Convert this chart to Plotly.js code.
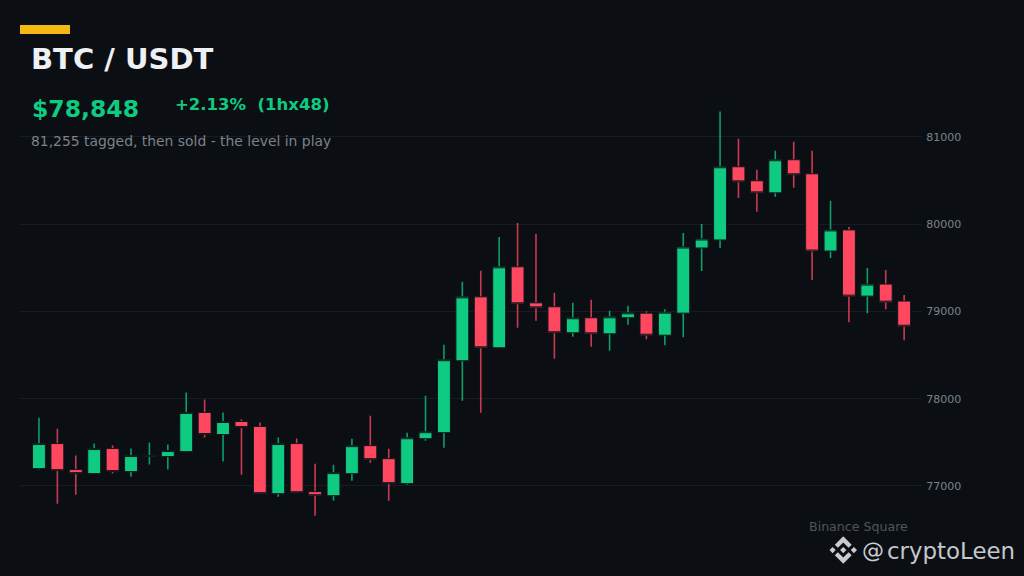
<!DOCTYPE html>
<html>
<head>
<meta charset="utf-8">
<script src="https://cdn.plot.ly/plotly-3.0.1.min.js"></script>
<style>html,body{margin:0;padding:0;background:#0b0f13;overflow:hidden}#chart{width:1024px;height:576px}</style>
</head>
<body>
<div id="chart"></div>
<script>
const opens = [77199,77486,77188,77142,77429,77165,77337,77337,77394,77843,77590,77739,77682,76912,77486,76935,76889,77141,77462,77313,77027,77542,77611,78435,79168,78584,79512,79099,79054,78756,78928,78744,78928,78981,78728,78981,79728,79820,80659,80498,80360,80739,80578,79693,79935,79176,79314,79119];
const closes = [77486,77176,77142,77429,77165,77349,77349,77406,77843,77590,77739,77670,76912,77486,76923,76889,77153,77462,77302,77027,77553,77622,78447,79168,78584,79512,79088,79042,78756,78928,78744,78939,78985,78728,78992,79739,79831,80659,80486,80360,80739,80567,79693,79935,79176,79314,79107,78831];
const highs = [77781,77655,77349,77486,77463,77429,77498,77475,78072,77992,77843,77762,77728,77555,77544,77256,77244,77542,77805,77427,77611,78034,78618,79340,79466,79855,80015,79889,79214,79100,79134,79008,79065,79004,79027,79900,80004,81291,80981,80624,80843,80946,80843,80268,79969,79498,79475,79188];
const lows = [77188,76797,76900,77142,77142,77107,77245,77188,77394,77555,77280,77130,76912,76877,76923,76660,76832,77061,77267,76832,77015,77519,77439,77977,77840,78584,78813,78893,78458,78710,78596,78550,78847,78682,78613,78705,79464,79728,80302,80142,80314,80417,79360,79613,78877,78981,79027,78671];
const tickValues = [77000,78000,79000,80000,81000];
const indexes = opens.map((_, i) => i);
const bodyHighs = opens.map((o, i) => Math.max(o, closes[i]));
const bodyLows = opens.map((o, i) => Math.min(o, closes[i]));
const bodyMids = opens.map((o, i) => (o + closes[i]) / 2);

const W = 1024, H = 576;
const M = {l: 20, r: 102, t: 100, b: 56};
const px = x => (x - M.l) / (W - M.l - M.r);
const py = y => 1 - (y - M.t) / (H - M.t - M.b);

const GREEN = '#0ecb81', RED = '#ff4760', BG = '#0b0f13';
const WICK_UP = '#0b9e66', WICK_DOWN = '#c93a50';

function text(t, x, y, size, color, bold, anchor) {
  return {text: bold ? '<b>' + t + '</b>' : t, xref: 'paper', yref: 'paper', x: px(x), y: py(y),
    xanchor: anchor || 'left', yanchor: 'middle', showarrow: false, borderpad: 0, borderwidth: 0,
    font: {family: 'DejaVu Sans', size: size, color: color}};
}

function poly(pts, ox, oy, s, color) {
  const d = pts.map((p, i) => (i ? 'L' : 'M') + px(ox + p[0] * s) + ',' + py(oy + p[1] * s)).join(' ') + ' Z';
  return {type: 'path', xref: 'paper', yref: 'paper', path: d, fillcolor: color, line: {width: 0}, layer: 'above'};
}
const LOGO = '#c9cbce', LS = 27.5 / 126.6, LX = 829.5, LY = 536.3;
const logoShapes = [
  [[38.7,53.2],[63.3,28.6],[87.9,53.2],[102.2,38.9],[63.3,0],[24.4,38.9]],
  [[0,63.3],[14.3,49],[28.6,63.3],[14.3,77.6]],
  [[48.8,63.3],[63.3,48.8],[77.8,63.3],[63.3,77.8]],
  [[98,63.3],[112.3,49],[126.6,63.3],[112.3,77.6]],
  [[38.7,73.4],[24.4,87.7],[63.3,126.6],[102.2,87.7],[87.9,73.4],[63.3,98]]
].map(p => poly(p, LX, LY, LS, LOGO));

const upIdx = indexes.filter(i => closes[i] >= opens[i]);
const dnIdx = indexes.filter(i => closes[i] < opens[i]);
function wick(idx, color) {
  return {type: 'candlestick', x: idx, open: idx.map(i => bodyMids[i]), close: idx.map(i => bodyMids[i]),
    high: idx.map(i => highs[i]), low: idx.map(i => lows[i]),
    increasing: {line: {color: color, width: 1.6}, fillcolor: color},
    decreasing: {line: {color: color, width: 1.6}, fillcolor: color},
    whiskerwidth: 0, hoverinfo: 'skip', showlegend: false};
}
const bodies = {type: 'candlestick', x: indexes, open: opens, close: closes, high: bodyHighs, low: bodyLows,
  increasing: {line: {color: '#10181d', width: 1}, fillcolor: GREEN},
  decreasing: {line: {color: '#10181d', width: 1}, fillcolor: RED},
  whiskerwidth: 0, hoverinfo: 'skip', showlegend: false};
const data = [wick(upIdx, WICK_UP), wick(dnIdx, WICK_DOWN), bodies];

const layout = {
  width: W, height: H, margin: M, paper_bgcolor: BG, plot_bgcolor: BG, showlegend: false,
  boxmode: 'overlay', boxgap: 0.3, boxgroupgap: 0,
  xaxis: {range: [-1.03, 47.97], showgrid: false, zeroline: false, showticklabels: false, ticks: '', showline: false,
    rangeslider: {visible: false}, fixedrange: true},
  yaxis: {side: 'right', range: [76610, 81424], tickvals: tickValues, ticktext: tickValues.map(String),
    showgrid: true, gridcolor: '#181c21', gridwidth: 1, zeroline: false, showline: false,
    ticks: 'outside', ticklen: 1, tickcolor: 'rgba(0,0,0,0)',
    tickfont: {family: 'DejaVu Sans', size: 11, color: '#7c828c'}, fixedrange: true},
  shapes: [
    {type: 'rect', xref: 'paper', yref: 'paper', x0: px(20), x1: px(70), y0: py(25), y1: py(34),
      fillcolor: '#f3ba13', line: {width: 0}, layer: 'above'}
  ].concat(logoShapes),
  annotations: [
    text('BTC / USDT', 31, 59.5, 29, '#eef0f4', true),
    text('$78,848', 32, 108.5, 23.5, GREEN, true),
    text('+2.13%\u00a0\u00a0(1hx48)', 175, 104.5, 16.5, GREEN, true),
    text('81,255 tagged, then sold - the level in play', 31, 141, 13.9, '#7c828c', false),
    text('Binance Square', 908, 526, 12.6, '#4f555e', false, 'right'),
    text('@', 861.5, 550.5, 22, '#c9cbce', false),
    text('cryptoLeen', 887, 551, 22.9, '#c4c7cc', false)
  ]
};
Plotly.newPlot('chart', data, layout, {staticPlot: true, displayModeBar: false});
</script>
</body>
</html>
